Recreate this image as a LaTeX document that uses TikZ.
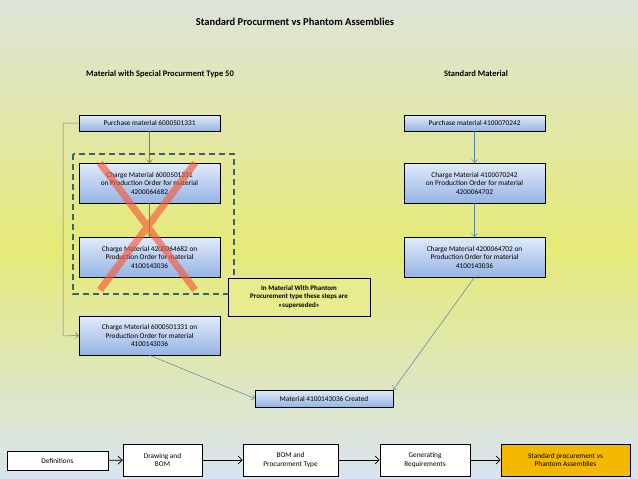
\documentclass[tikz,border=0pt]{standalone}
\usepackage{fontspec}
\setmainfont{Carlito}
\usetikzlibrary{arrows.meta}
\definecolor{bgtop}{RGB}{221,228,216}
\definecolor{bgmid}{RGB}{230,234,120}
\definecolor{bgbot}{RGB}{216,228,242}
\definecolor{bxtop}{RGB}{225,234,250}
\definecolor{bxbot}{RGB}{150,180,228}
\definecolor{ln}{RGB}{80,130,170}
\definecolor{dsh}{RGB}{60,100,110}
\definecolor{orng}{RGB}{245,184,0}
\definecolor{xred}{RGB}{245,90,60}
\definecolor{notef}{RGB}{232,236,140}
\begin{document}
\begin{tikzpicture}[x=1pt,y=-1pt,
  bx/.style={draw=black,line width=0.5pt,top color=bxtop,bottom color=bxbot,align=center,font=\fontsize{7.3}{8.5}\selectfont,inner sep=1pt},
  ar/.style={draw=ln,-{Straight Barb[length=3pt]},line width=0.5pt},
  nb/.style={draw=black,fill=notef,align=center,inner sep=1pt},
  na/.style={-{Straight Barb[length=4pt]},line width=0.8pt}]
\useasboundingbox (0,0) rectangle (638,479);
\shade[top color=bgtop,bottom color=bgmid] (0,0) rectangle (638,250);
\shade[top color=bgmid,bottom color=bgbot] (0,249.5) rectangle (638,479);
\node[font=\bfseries\fontsize{10.5}{12}\selectfont] (t) at (295,22) {Standard Procurment vs Phantom Assemblies};
\node[font=\bfseries\fontsize{8.5}{10}\selectfont] (s1) at (160,74) {Material with Special Procurment Type 50};
\node[font=\bfseries\fontsize{8.5}{10}\selectfont] (s2) at (476,74) {Standard Material};
\node[bx,minimum width=141pt,minimum height=16pt] (p1) at (149.5,123) {Purchase material 6000501331};
\node[bx,minimum width=141pt,minimum height=40pt] (c1) at (149.5,183) {Charge Material 6000501331\\on Production Order for material\\4200064682};
\node[bx,minimum width=141pt,minimum height=40pt] (c2) at (149.5,257) {Charge Material 4200064682 on\\Production Order for material\\4100143036};
\node[bx,minimum width=141pt,minimum height=39pt] (c3) at (149.5,335.5) {Charge Material 6000501331 on\\Production Order for material\\4100143036};
\node[bx,minimum width=141pt,minimum height=16pt] (p2) at (474.5,123) {Purchase material 4100070242};
\node[bx,minimum width=141pt,minimum height=40pt] (r1) at (474.5,183) {Charge Material 4100070242\\on Production Order for material\\4200064702};
\node[bx,minimum width=141pt,minimum height=40pt] (r2) at (474.5,257) {Charge Material 4200064702 on\\Production Order for material\\4100143036};
\node[bx,minimum width=138pt,minimum height=17pt] (m) at (324,398.5) {Material 4100143036 Created};
\draw[ar] (p1) -- (c1);
\draw[ar] (c1) -- (c2);
\draw[ar] (p2) -- (r1);
\draw[ar] (r1) -- (r2);
\draw[ar] (p1.west) -- (63,123) -- (63,336) -- (c3.west);
\draw[ar] (c3.south) -- (m.west);
\draw[ar] (r2.south) -- (m.north east);
\draw[draw=dsh,line width=1.3pt,dash pattern=on 6pt off 4pt] (73,154) rectangle (234,294);
\draw[xred,opacity=0.65,line width=7pt] (100,290) -- (195,163) (100,163) -- (195,290);
\node[nb,font=\bfseries\fontsize{7}{8.5}\selectfont,minimum width=142pt,minimum height=38pt] (n) at (299,297) {In Material With Phantom\\Procurement type these steps are\\«superseded»};
\begin{scope}[every node/.style={draw=black,line width=0.6pt,fill=white,align=center,font=\fontsize{7.3}{8.5}\selectfont,inner sep=1pt}]
\node[minimum width=101pt,minimum height=19pt] (b1) at (57.5,460.5) {Definitions};
\node[minimum width=79pt,minimum height=32pt] (b2) at (162.5,460) {Drawing and\\BOM};
\node[minimum width=95pt,minimum height=32pt] (b3) at (290.5,460) {BOM and\\Procurement Type};
\node[minimum width=90pt,minimum height=32pt] (b4) at (425,460) {Generating\\Requirements};
\node[minimum width=129pt,minimum height=32pt,fill=orng] (b5) at (565.5,460) {Standard procurement vs\\Phantom Assemblies};
\end{scope}
\draw[na] (b1) -- (b2);
\draw[na] (b2) -- (b3);
\draw[na] (b3) -- (b4);
\draw[na] (b4) -- (b5);
\end{tikzpicture}
\end{document}
